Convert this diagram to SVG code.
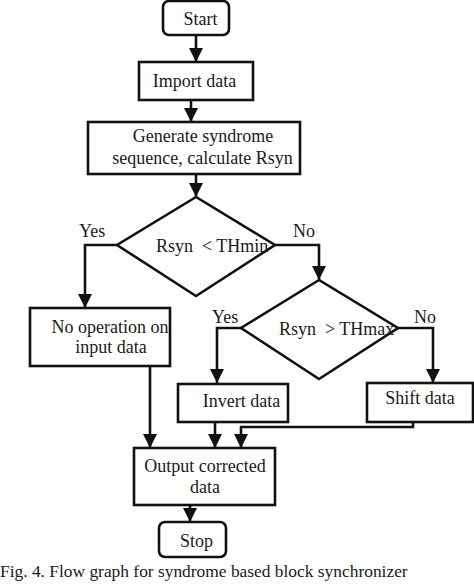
<svg xmlns="http://www.w3.org/2000/svg" width="474" height="588" viewBox="0 0 474 588">
<style>
.n{fill:#fff;stroke:#111;stroke-width:2.6}
.t{font-family:'Liberation Serif','DejaVu Serif',serif;font-size:18px;fill:#1a1a1a}
.m{text-anchor:middle}
.e{fill:none;stroke:#111;stroke-width:2.6}
</style>
<defs>
<marker id="ah" markerUnits="userSpaceOnUse" markerWidth="14" markerHeight="16" viewBox="0 0 14 16" refX="14" refY="7" orient="auto">
<path d="M0,0 L14,7 L0,14 Z" fill="#111"/>
</marker>
</defs>
<rect width="474" height="588" fill="#fff"/>
<g id="connectors">
<path class="e" d="M196,35 V62" marker-end="url(#ah)"/>
<path class="e" d="M191,100 V122" marker-end="url(#ah)"/>
<path class="e" d="M196,174 V197" marker-end="url(#ah)"/>
<path class="e" d="M117,245 H85 V308" marker-end="url(#ah)"/>
<path class="e" d="M275,245 H319 V280" marker-end="url(#ah)"/>
<path class="e" d="M241,328 H217 V383" marker-end="url(#ah)"/>
<path class="e" d="M398,328 H433 V383" marker-end="url(#ah)"/>
<path class="e" d="M150,366 V448" marker-end="url(#ah)"/>
<path class="e" d="M215,422 V448" marker-end="url(#ah)"/>
<path class="e" d="M413,422 V427 H241 V448" marker-end="url(#ah)"/>
<path class="e" d="M190,505 V522" marker-end="url(#ah)"/>
<text class="t" x="79" y="237">Yes</text>
<text class="t" x="293" y="237">No</text>
<text class="t" x="212" y="323">Yes</text>
<text class="t" x="414" y="323">No</text>
</g>
<g id="start">
<rect class="n" x="163" y="1" width="66" height="34" rx="6"/>
<text class="t m" x="200.5" y="25">Start</text>
</g>
<g id="import">
<rect class="n" x="139" y="62" width="114" height="38"/>
<text class="t m" x="194.5" y="87">Import data</text>
</g>
<g id="generate">
<rect class="n" x="88" y="122" width="212" height="52"/>
<text class="t m" x="203" y="142">Generate syndrome</text>
<text class="t m" x="202.5" y="164">sequence, calculate Rsyn</text>
</g>
<g id="cond1">
<polygon class="n" points="196,197 117,245 196,296 275,245"/>
<text class="t" x="156" y="252" xml:space="preserve">Rsyn  &lt; THmin</text>
</g>
<g id="cond2">
<polygon class="n" points="319,280 241,328 319,379 398,328"/>
<text class="t" x="279" y="335" xml:space="preserve">Rsyn  &gt; THmax</text>
</g>
<g id="noop">
<rect class="n" x="30" y="308" width="140" height="58"/>
<text class="t m" x="110" y="333">No operation on</text>
<text class="t m" x="111" y="353">input data</text>
</g>
<g id="invert">
<rect class="n" x="178" y="384" width="110" height="38"/>
<text class="t m" x="241.5" y="407">Invert data</text>
</g>
<g id="shift">
<rect class="n" x="367" y="383" width="106" height="39"/>
<text class="t m" x="420" y="404">Shift data</text>
</g>
<g id="output">
<rect class="n" x="134" y="448" width="141" height="57"/>
<text class="t m" x="205" y="472">Output corrected</text>
<text class="t m" x="205" y="493">data</text>
</g>
<g id="stop">
<rect class="n" x="159" y="522" width="67" height="35" rx="6"/>
<text class="t m" x="196.5" y="547">Stop</text>
</g>
<text class="t" x="0" y="577" style="font-size:17.4px">Fig. 4. Flow graph for syndrome based block synchronizer</text>
</svg>
